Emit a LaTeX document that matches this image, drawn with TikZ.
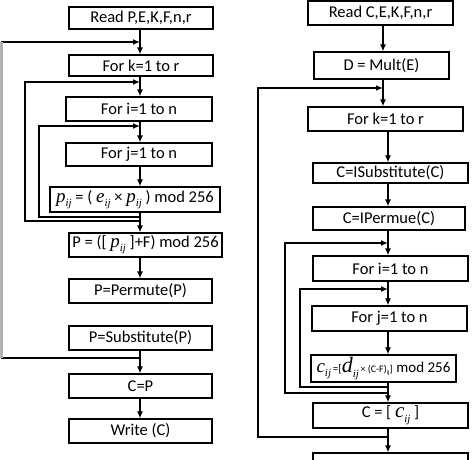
\documentclass[tikz,border=0pt]{standalone}
\usepackage{fontspec}
\setmainfont{Carlito}
\newfontfamily\serifit{Liberation Serif}
\usetikzlibrary{arrows.meta}
% italic variable with subscript
\newcommand\mvar[3][19]{{\serifit\itshape\fontsize{#1}{#1}\selectfont #2\raisebox{-0.22em}{\fontsize{11}{11}\selectfont #3}}}
\begin{document}
\begin{tikzpicture}[x=1pt,y=-1pt,line width=1.3pt,
  box/.style={draw,inner sep=0pt,font=\fontsize{16.5}{18}\selectfont},
  arr/.style={-{Latex[length=7pt,width=6pt]}}]
\useasboundingbox (0,0) rectangle (474,460);
\clip (0,0) rectangle (474,460);
\coordinate (colL) at (140,0);
\coordinate (colRa) at (383,0);
\coordinate (colRb) at (388,0);
% left: encryption
\node[box,minimum width=144pt,minimum height=22pt] (readP) at (141,18) {Read P,E,K,F,n,r};
\node[box,minimum width=144pt,minimum height=21pt] (forkL) at (141,65.5) {For k=1 to r};
\node[box,minimum width=146pt,minimum height=24pt] (foriL) at (139,109) {For i=1 to n};
\node[box,minimum width=146pt,minimum height=23pt] (forjL) at (139,154.5) {For j=1 to n};
\node[box,minimum width=170pt,minimum height=25pt] (pij) at (135,199.5) {\mvar{p}{ij} = ( \mvar{e}{ij} × \mvar{p}{ij} ) mod 256};
\node[box,minimum width=153pt,minimum height=24pt] (pmod) at (145.5,245) {P = ([ \mvar{p}{ij} ]+F) mod 256};
\node[box,minimum width=143pt,minimum height=24pt] (perm) at (140.5,291) {P=Permute(P)};
\node[box,minimum width=143pt,minimum height=24pt] (subst) at (140.5,338) {P=Substitute(P)};
\node[box,minimum width=143pt,minimum height=24pt] (cp) at (140.5,386) {C=P};
\node[box,minimum width=143pt,minimum height=24pt] (write) at (140.5,431) {Write (C)};
\draw[arr] (readP.south -| colL) -- (forkL.north -| colL);
\draw[arr] (forkL.south -| colL) -- (foriL.north -| colL);
\draw[arr] (foriL.south -| colL) -- (forjL.north -| colL);
\draw[arr] (forjL.south -| colL) -- (pij.north -| colL);
\draw[arr] (pij.south -| colL) -- (pmod.north -| colL);
\draw[arr] (pmod.south -| colL) -- (perm.north -| colL);
\draw[arr] (subst.south -| colL) -- (cp.north -| colL);
\draw[arr] (cp.south -| colL) -- (write.north -| colL);
% loops (left)
\draw[arr] (140,358) -- (2,358) -- (2,42) -- (140,42); % k
\draw[gray!60,line width=2.5pt] (1.5,358) -- (1.5,42);
\draw[arr] (140,221) -- (25,221) -- (25,82) -- (140,82); % i
\draw[arr] (140,217) -- (39,217) -- (39,126) -- (140,126); % j
% right: decryption
\node[box,minimum width=145pt,minimum height=24pt] (readC) at (380.5,13) {Read C,E,K,F,n,r};
\node[box,minimum width=135pt,minimum height=27pt] (mult) at (381.5,65.5) {D = Mult(E)};
\node[box,minimum width=155pt,minimum height=24pt] (forkR) at (385.5,119) {For k=1 to r};
\node[box,minimum width=155pt,minimum height=20pt] (isub) at (390.5,173) {C=ISubstitute(C)};
\node[box,minimum width=152pt,minimum height=23pt] (iperm) at (389,218.5) {C=IPermue(C)};
\node[box,minimum width=155pt,minimum height=25pt] (foriR) at (390.5,268.5) {For i=1 to n};
\node[box,minimum width=155pt,minimum height=25pt] (forjR) at (389.5,318.5) {For j=1 to n};
\node[box,minimum width=145pt,minimum height=27pt] (cij) at (383.5,368.5) {\mvar[19]{c}{ij}{\fontsize{11}{12}\selectfont\,=[}\mvar[22]{d}{ij}{\fontsize{10}{12}\selectfont\,× (C-F)\raisebox{-0.2em}{\fontsize{6}{6}\selectfont ij}]} {\fontsize{15}{16}\selectfont mod 256}};
\node[box,minimum width=155pt,minimum height=25pt] (cfin) at (390.5,415.5) {C = [ \mvar[21]{c}{ij} ]};
\node[box,minimum width=155pt,minimum height=32pt] (last) at (390.5,469) {};
\draw[arr] (readC.south -| colRa) -- (mult.north -| colRa);
\draw[arr] (mult.south -| colRa) -- (forkR.north -| colRa);
\draw[arr] (forkR.south -| colRb) -- (isub.north -| colRb);
\draw[arr] (isub.south -| colRb) -- (iperm.north -| colRb);
\draw[arr] (iperm.south -| colRb) -- (foriR.north -| colRb);
\draw[arr] (foriR.south -| colRb) -- (forjR.north -| colRb);
\draw[arr] (forjR.south -| colRb) -- (cij.north -| colRb);
\draw[arr] (cij.south -| colRb) -- (cfin.north -| colRb);
\draw[arr] (cfin.south -| colRb) -- (last.north -| colRb);
% loops (right)
\draw[arr] (388,437) -- (258,437) -- (258,88) -- (383,88); % k
\draw[arr] (388,393) -- (285,393) -- (285,243) -- (388,243); % i
\draw[arr] (388,387) -- (300,387) -- (300,289) -- (388,289); % j
\end{tikzpicture}
\end{document}
